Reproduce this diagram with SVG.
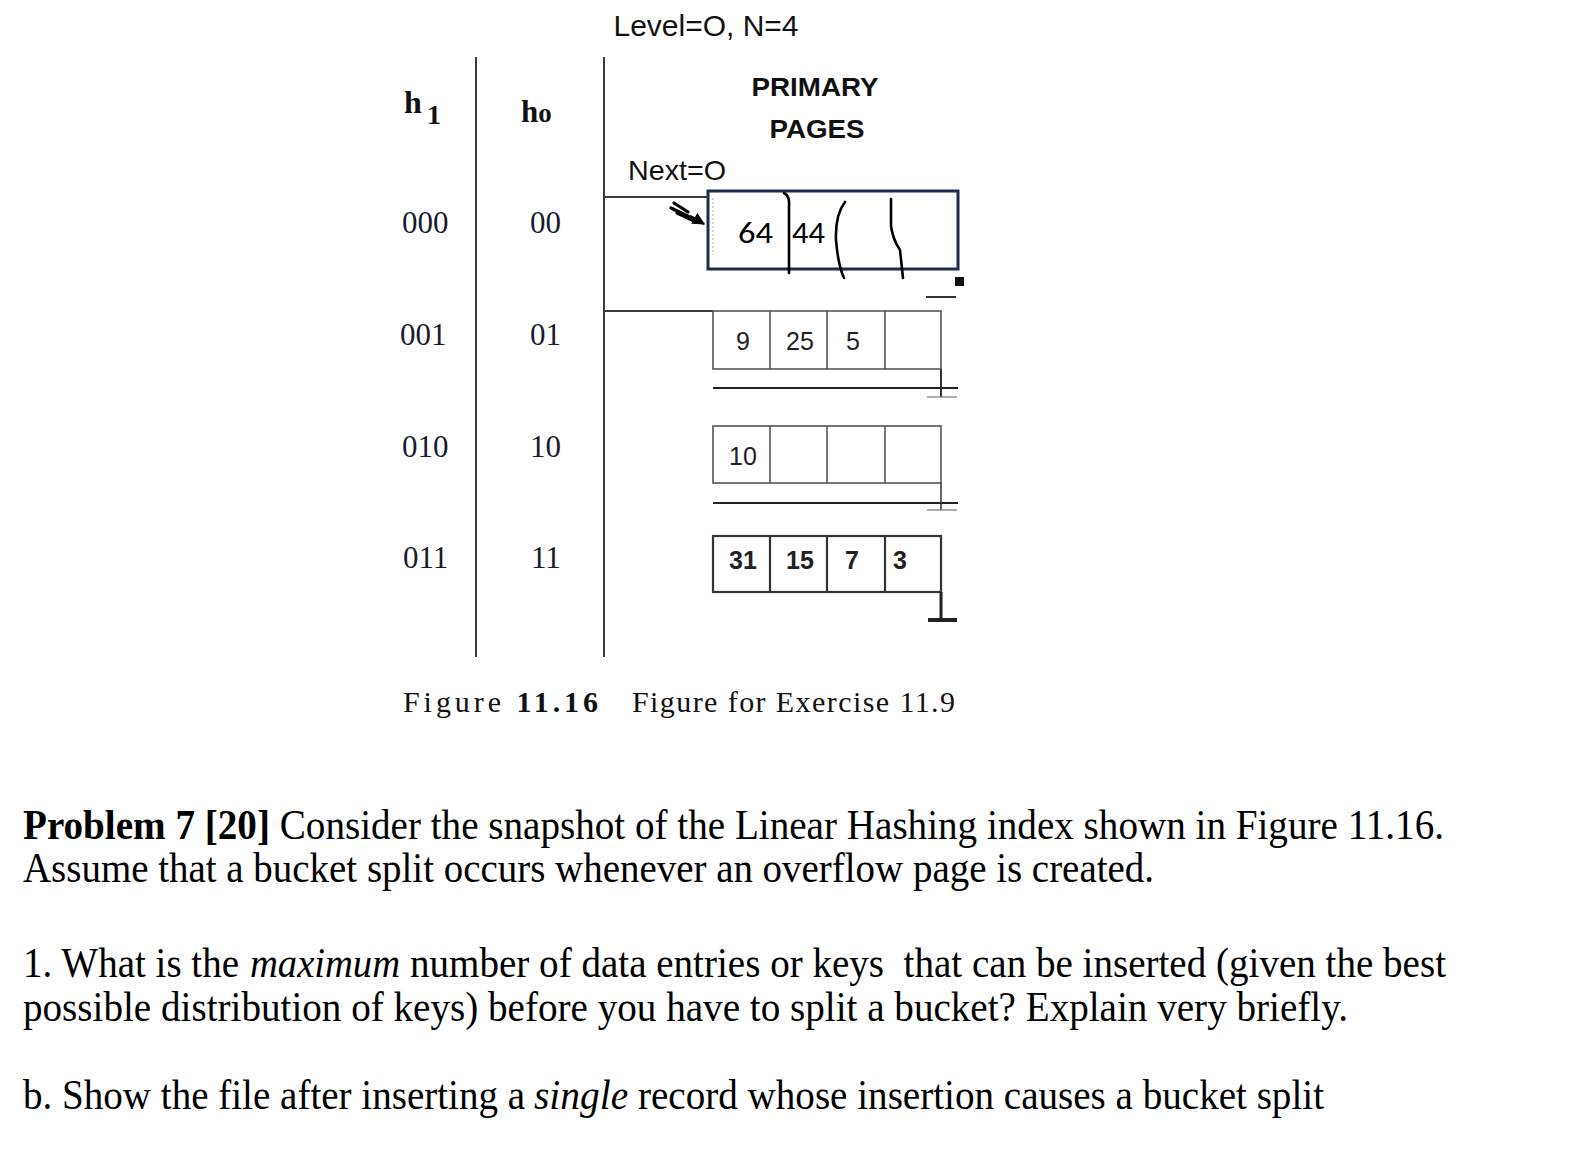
<svg xmlns="http://www.w3.org/2000/svg" width="1580" height="1172" viewBox="0 0 1580 1172">
<style>
.sans{font-family:"Liberation Sans",Arial,sans-serif;fill:#111}
.serif{font-family:"Liberation Serif","Times New Roman",serif;fill:#111}
.lbl{font-family:"Liberation Serif","Times New Roman",serif;font-size:31px;fill:#1a1a2e}
.cell{font-family:"Liberation Sans",Arial,sans-serif;font-size:25px;fill:#222;text-anchor:middle}
.cellb{font-family:"Liberation Sans",Arial,sans-serif;font-size:25px;font-weight:bold;fill:#222;text-anchor:middle}
.grid{stroke:#3a3a3a;stroke-width:2;fill:none}
.bk{fill:none;stroke:#555;stroke-width:1.6}
.bk4{fill:none;stroke:#333;stroke-width:2.2}
.ink{fill:none;stroke:#000;stroke-width:2.6;stroke-linecap:round}
.prob{font-family:"Liberation Serif","Times New Roman",serif;font-size:42px;fill:#000}
</style>
<defs>
<marker id="ah" viewBox="0 0 10 10" refX="9" refY="5" markerWidth="5" markerHeight="5" orient="auto"><path d="M0,0 L10,5 L0,10 z" fill="#000"/></marker>
</defs>

<g id="header">
<text class="sans" x="706" y="36" font-size="29" text-anchor="middle" textLength="185" lengthAdjust="spacingAndGlyphs">Level=O, N=4</text>
<text class="sans" x="815" y="96" font-size="26" font-weight="bold" text-anchor="middle" textLength="127" lengthAdjust="spacingAndGlyphs">PRIMARY</text>
<text class="sans" x="817" y="138" font-size="26" font-weight="bold" text-anchor="middle" textLength="95" lengthAdjust="spacingAndGlyphs">PAGES</text>
<text class="sans" x="628" y="180" font-size="28" textLength="98" lengthAdjust="spacingAndGlyphs">Next=O</text>
<text class="serif" x="404" y="113" font-size="32" font-weight="bold">h</text>
<text class="serif" x="427" y="124" font-size="28" font-weight="bold">1</text>
<text class="serif" x="521" y="122" font-size="31" font-weight="bold">h<tspan font-size="27">o</tspan></text>
</g>

<g id="grid">
<line class="grid" x1="476" y1="57" x2="476" y2="657"/>
<line class="grid" x1="604" y1="57" x2="604" y2="657"/>
</g>

<g id="labels">
<text class="lbl" x="402" y="233">000</text>
<text class="lbl" x="530" y="233">00</text>
<text class="lbl" x="400" y="345">001</text>
<text class="lbl" x="530" y="345">01</text>
<text class="lbl" x="402" y="457">010</text>
<text class="lbl" x="530" y="457">10</text>
<text class="lbl" x="403" y="568">011</text>
<text class="lbl" x="531" y="568">11</text>
</g>

<g id="connectors">
<line class="grid" x1="604" y1="197" x2="708" y2="197"/>
<line class="grid" x1="604" y1="311" x2="713" y2="311"/>
<path d="M674,203 L688,212 M671,208 L700,222 M677,213 L692,220" stroke="#000" stroke-width="3.2" fill="none" stroke-linecap="round"/>
<line x1="690" y1="216" x2="704" y2="224" stroke="#000" stroke-width="2.5" marker-end="url(#ah)"/>
</g>

<g id="bucket0">
<rect x="708" y="191" width="250" height="78" fill="none" stroke="#1f2d4d" stroke-width="3"/>
<line x1="713" y1="198" x2="713" y2="255" stroke="#aaa" stroke-width="1" stroke-dasharray="2,2"/>
<text x="738" y="243" font-family="Carlito,'Open Sans','Liberation Sans',sans-serif" font-size="30" fill="#000" textLength="35" lengthAdjust="spacingAndGlyphs">64</text>
<text x="792" y="243" font-family="Carlito,'Open Sans','Liberation Sans',sans-serif" font-size="30" fill="#000" textLength="33" lengthAdjust="spacingAndGlyphs">44</text>
<path class="ink" d="M784,193 Q790,196 789,206 L789,273"/>
<path class="ink" d="M845,202 Q835,215 836,240 Q838,265 844,278"/>
<path class="ink" d="M891,199 L891,226 Q893,240 900,250 L903,278"/>
<rect x="955" y="277" width="9" height="9" fill="#111"/>
<line x1="926" y1="297" x2="956" y2="297" stroke="#333" stroke-width="2"/>
</g>

<g id="bucket1">
<rect class="bk" x="713" y="311" width="228" height="58"/>
<line class="bk" x1="770" y1="311" x2="770" y2="369"/>
<line class="bk" x1="827" y1="311" x2="827" y2="369"/>
<line class="bk" x1="885" y1="311" x2="885" y2="369"/>
<line x1="713" y1="388" x2="958" y2="388" stroke="#222" stroke-width="2"/>
<line x1="941" y1="369" x2="941" y2="397" stroke="#333" stroke-width="2"/>
<line x1="927" y1="397" x2="957" y2="397" stroke="#777" stroke-width="1.2"/>
<text class="cell" x="743" y="350">9</text>
<text class="cell" x="800" y="350">25</text>
<text class="cell" x="853" y="350">5</text>
</g>

<g id="bucket2">
<rect class="bk" x="713" y="426" width="228" height="57"/>
<line class="bk" x1="770" y1="426" x2="770" y2="483"/>
<line class="bk" x1="827" y1="426" x2="827" y2="483"/>
<line class="bk" x1="885" y1="426" x2="885" y2="483"/>
<line x1="713" y1="503" x2="958" y2="503" stroke="#222" stroke-width="2"/>
<line x1="941" y1="483" x2="941" y2="510" stroke="#333" stroke-width="1.5"/>
<line x1="927" y1="510" x2="957" y2="510" stroke="#777" stroke-width="1.2"/>
<text class="cell" x="743" y="465">10</text>
</g>

<g id="bucket3">
<rect class="bk4" x="713" y="536" width="228" height="56"/>
<line class="bk4" x1="770" y1="536" x2="770" y2="592"/>
<line class="bk4" x1="827" y1="536" x2="827" y2="592"/>
<line class="bk4" x1="885" y1="536" x2="885" y2="592"/>
<line x1="941" y1="592" x2="941" y2="620" stroke="#222" stroke-width="3"/>
<line x1="928" y1="620" x2="957" y2="620" stroke="#222" stroke-width="4"/>
<text class="cellb" x="743" y="569">31</text>
<text class="cellb" x="800" y="569">15</text>
<text class="cellb" x="852" y="569">7</text>
<text class="cellb" x="900" y="569">3</text>
</g>

<g id="caption">
<text class="serif" x="403" y="712" font-size="30" textLength="195" lengthAdjust="spacing">Figure <tspan font-weight="bold">11.16</tspan></text>
<text class="serif" x="632" y="712" font-size="30" textLength="323" lengthAdjust="spacing">Figure for Exercise 11.9</text>
</g>

<g id="problem">
<text class="prob" x="23" y="839" textLength="1421" lengthAdjust="spacingAndGlyphs"><tspan font-weight="bold">Problem 7 [20]</tspan> Consider the snapshot of the Linear Hashing index shown in Figure 11.16.</text>
<text class="prob" x="23" y="882" textLength="1131" lengthAdjust="spacingAndGlyphs">Assume that a bucket split occurs whenever an overflow page is created.</text>
<text class="prob" x="23" y="977" textLength="216" lengthAdjust="spacingAndGlyphs">1. What is the</text>
<text class="prob" x="250" y="977" font-style="italic" textLength="150" lengthAdjust="spacingAndGlyphs">maximum</text>
<text class="prob" x="410" y="977" textLength="1036" lengthAdjust="spacingAndGlyphs" xml:space="preserve">number of data entries or keys  that can be inserted (given the best</text>
<text class="prob" x="23" y="1021" textLength="1325" lengthAdjust="spacingAndGlyphs">possible distribution of keys) before you have to split a bucket? Explain very briefly.</text>
<text class="prob" transform="translate(23,1109) scale(0.93,1)" x="0" y="0">b. Show the file after inserting a</text>
<text class="prob" transform="translate(534,1109) scale(0.94,1)" x="0" y="0" font-style="italic">single</text>
<text class="prob" x="638" y="1109" textLength="686" lengthAdjust="spacingAndGlyphs">record whose insertion causes a bucket split</text>
</g>
</svg>
